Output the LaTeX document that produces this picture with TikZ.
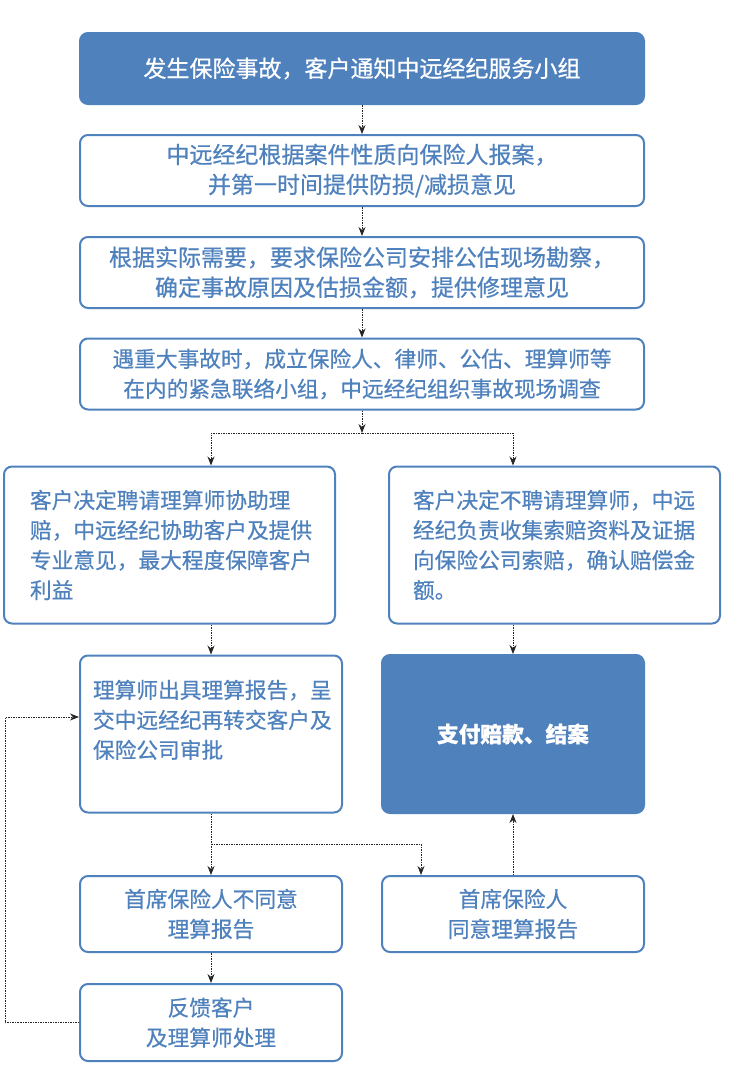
\documentclass[tikz,border=0pt]{standalone}
\usepackage{fontspec}
\newfontfamily\cjk[FakeBold=0.6]{Noto Sans CJK SC}
\usetikzlibrary{arrows.meta}
\definecolor{boxblue}{HTML}{4F81BD}
\begin{document}
\begin{tikzpicture}[x=1pt, y=-1pt,
    box/.style = {draw=boxblue, line width=2pt, rounded corners=8pt, text=boxblue, align=center,
                  inner sep=0pt, font=\cjk\fontsize{21.7}{30}\selectfont},
    fillbox/.style = {box, fill=boxblue, text=white},
    big/.style = {font=\cjk\fontsize{23}{30}\selectfont},
    wide/.style = {minimum width=564pt, minimum height=71pt},
    half/.style = {minimum width=331pt, minimum height=157pt, align=left},
    small/.style = {minimum width=262pt, minimum height=76pt},
    link/.style = {-{Stealth[length=9pt,width=7pt]}, line width=0.8pt, black!85, dash pattern=on 1.5pt off 1pt}]
    \useasboundingbox (0,0) rectangle (744,1085);

    \node (b1) at (362,68.5) [fillbox, wide, big] {发生保险事故，客户通知中远经纪服务小组};
    \node (b2) at (362,170.5) [box, wide, big] {中远经纪根据案件性质向保险人报案，\\并第一时间提供防损/减损意见};
    \node (b3) at (362,272.5) [box, wide, big] {根据实际需要，要求保险公司安排公估现场勘察，\\确定事故原因及估损金额，提供修理意见};
    \node (b4) at (362,374) [box, wide] {遇重大事故时，成立保险人、律师、公估、理算师等\\在内的紧急联络小组，中远经纪组织事故现场调查};

    \node (b5l) at (169.5,545) [box, half, text width=279pt] {客户决定聘请理算师协助理\\赔，中远经纪协助客户及提供\\专业意见，最大程度保障客户\\利益};
    \node (b5r) at (554.5,545) [box, half, text width=283pt] {客户决定不聘请理算师，中远\\经纪负责收集索赔资料及证据\\向保险公司索赔，确认赔偿金\\额。};

    \node (b6l) at (211,734) [box, minimum width=262pt, minimum height=157pt, text width=236pt, align=left]
        {理算师出具理算报告，呈\\交中远经纪再转交客户及\\保险公司审批\\\mbox{}};
    \node (b6r) at (513,734) [fillbox, minimum width=262pt, minimum height=158pt] {\bfseries 支付赔款、结案};

    \node (b7l) at (211,914) [box, small] {首席保险人不同意\\理算报告};
    \node (b7r) at (513,914) [box, small] {首席保险人\\同意理算报告};
    \node (b8) at (211,1022.5) [box, small, minimum height=77pt] {反馈客户\\及理算师处理};

    \coordinate (split) at (362,433);
    \coordinate (split2) at (211,844);
    \coordinate (agree) at ([xshift=-92pt]b7r.north);
    \coordinate (back) at (5,717);

    \draw[link] (b1) -- (b2);
    \draw[link] (b2) -- (b3);
    \draw[link] (b3) -- (b4);
    \draw[link] (b4) -- (split);
    \draw[link] (split) -| (b5l.north -| b6l);
    \draw[link] (split) -| (b5r.north -| b6r);
    \draw[link] (b5l.south -| b6l) -- (b6l);
    \draw[link] (b5r.south -| b6r) -- (b6r);
    \draw[link] (b6l) -- (b7l);
    \draw[link] (split2) -| (agree);
    \draw[link] (b7r) -- (b6r);
    \draw[link] (b7l) -- (b8);
    % back to the loss adjuster
    \draw[link] (b8.west) -| (back) -- (back -| b6l.west);
\end{tikzpicture}
\end{document}
